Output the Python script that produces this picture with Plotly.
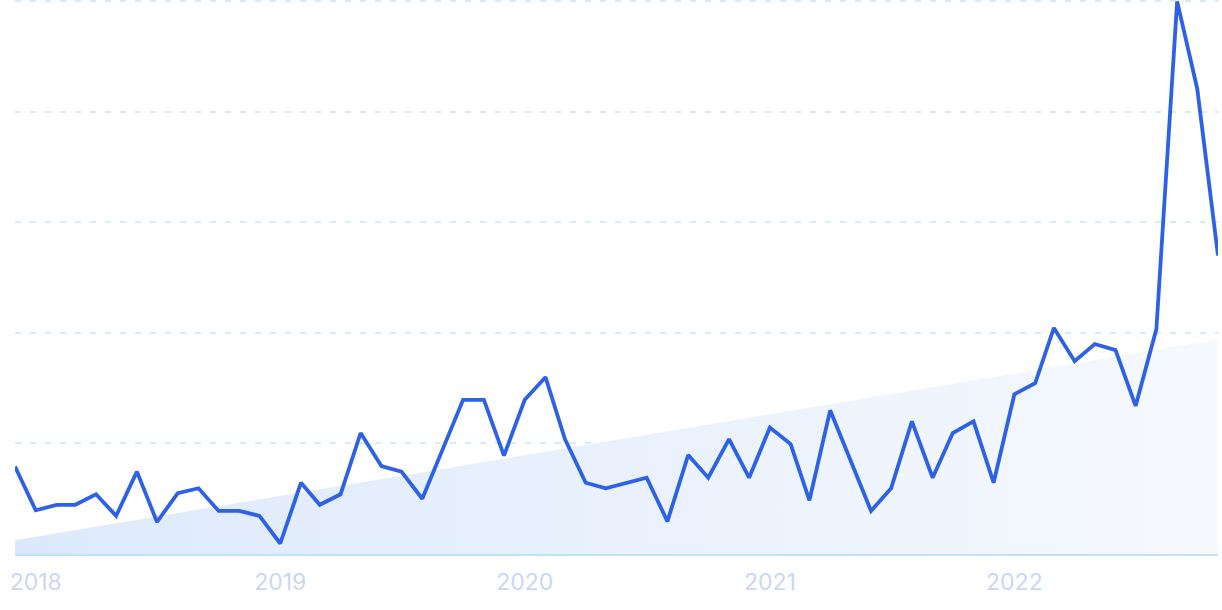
import pandas as pd
import plotly.graph_objects as go

LINE = "#2D62E6"
GRID = "#D6EAF7"
BASE = "#BDE2FB"
TICK = "#CAD7F4"

# monthly interest index, Dec 2017 .. Nov 2022
months = pd.date_range("2017-12-01", "2022-11-01", freq="MS")
interest = [
    15.8, 7.9, 8.9, 8.9, 10.8, 6.9, 14.9, 5.8, 11.0, 11.9, 7.8, 7.8,
    6.9, 1.9, 12.9, 8.9, 10.8, 21.9, 15.9, 14.9, 10.0, 19.0, 27.9, 27.9,
    17.8, 27.9, 32.0, 20.8, 12.9, 11.9, 12.9, 13.8, 5.9, 17.9, 13.8, 20.8,
    13.8, 22.9, 19.9, 9.7, 26.0, 16.9, 7.8, 11.9, 24.0, 13.8, 21.9, 24.0,
    12.9, 28.9, 30.9, 40.9, 34.9, 38.0, 36.9, 26.8, 40.7, 100.0, 84.2, 54.0,
]

# linear trend end points
trend_x = [months[0], months[-1]]
trend_y = [2.5, 38.8]

year_ticks = pd.to_datetime(["2018-01-01", "2019-01-01", "2020-01-01", "2021-01-01", "2022-01-01"])
year_labels = ["2018", "2019", "2020", "2021", "2022"]

fig = go.Figure()
fig.add_trace(
    go.Scatter(
        x=trend_x,
        y=trend_y,
        mode="lines",
        line={"width": 0, "color": "rgba(0,0,0,0)"},
        fill="tozeroy",
        fillgradient={
            "type": "horizontal",
            "colorscale": [[0, "#DDE9FB"], [1, "#F6F9FE"]],
        },
        hoverinfo="skip",
        showlegend=False,
    )
)
fig.add_trace(
    go.Scatter(
        x=months,
        y=interest,
        mode="lines",
        line={"color": LINE, "width": 3.8},
        showlegend=False,
        hovertemplate="%{x|%b %Y}: %{y}<extra></extra>",
    )
)

fig.update_layout(
    width=1222,
    height=610,
    paper_bgcolor="white",
    plot_bgcolor="white",
    margin={"l": 15, "r": 4, "t": 0, "b": 56},
    font={"family": "Inter, sans-serif", "size": 23, "color": TICK},
    showlegend=False,
)
fig.update_xaxes(
    range=[months[0], months[-1]],
    tickvals=year_ticks,
    ticktext=year_labels,
    showgrid=False,
    showline=True,
    linecolor=BASE,
    linewidth=1.5,
    ticks="",
    ticklabelstandoff=7,
    tickfont={"size": 23, "color": TICK},
    zeroline=False,
    automargin=False,
)
fig.update_yaxes(
    range=[0, 100.25],
    tickvals=[20, 40, 60, 80, 100],
    showticklabels=False,
    showgrid=True,
    gridcolor=GRID,
    gridwidth=1.6,
    griddash="6px,9px",
    zeroline=False,
    automargin=False,
)

# drop the browser's default 8px body margin so the figure sits at the page corner
fig.write_html(
    "out.html",
    config={"displayModeBar": False},
    post_script="document.body.style.margin='0';",
)
